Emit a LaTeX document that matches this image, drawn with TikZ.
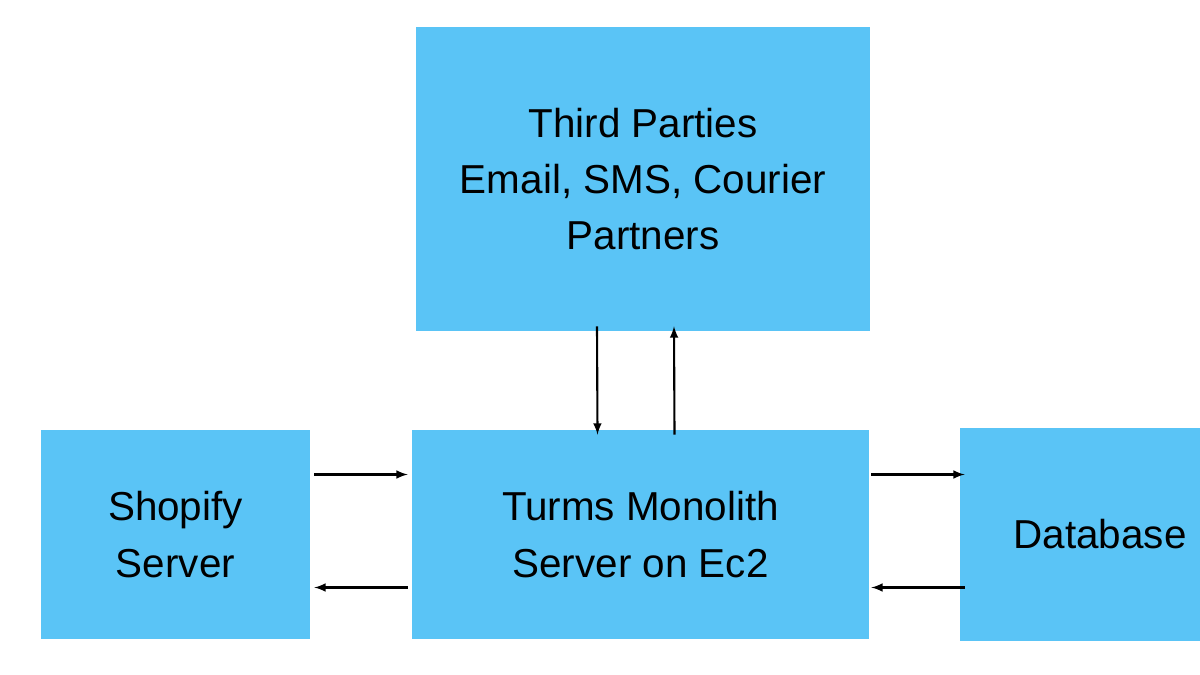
\documentclass[tikz,border=0pt]{standalone}
\usepackage{fontspec}
\setmainfont{Liberation Sans}
\usetikzlibrary{calc}
\definecolor{boxblue}{HTML}{5AC4F6}
\begin{document}
\begin{tikzpicture}[x=0.02cm,y=-0.02cm,
  box/.style={fill=boxblue,draw=none,align=center,inner sep=0pt,
    font=\fontsize{23}{32}\selectfont},
  arr/.style={-latex,line width=1.2pt}]
\clip (0,0) rectangle (1200,675);
\fill[white] (0,0) rectangle (1200,675);
\node[box,minimum width=9.08cm,minimum height=6.08cm] (tp) at (643,179) {Third Parties\\Email, SMS, Courier\\Partners};
\node[box,minimum width=5.38cm,minimum height=4.18cm] (sh) at (175.5,534.5) {Shopify\\Server};
\node[box,minimum width=9.14cm,minimum height=4.18cm] (tm) at (640.5,534.5) {Turms Monolith\\Server on Ec2};
\node[box,minimum width=5.6cm,minimum height=4.26cm] (db) at (1100,534.5) {Database};
\draw[arr] ($(tp.south)+(-46,-5)$) -- ($(tm.north)+(-43,5)$);
\draw[arr] ($(tm.north)+(34,5)$) -- ($(tp.south)+(31,-5)$);
\draw[arr] ($(sh.east)+(4,-60)$) -- ($(tm.west)+(-4,-60)$);
\draw[arr] ($(tm.west)+(-4,53)$) -- ($(sh.east)+(4,53)$);
\draw[arr] ($(tm.east)+(2,-60)$) -- ($(db.west)+(5,-60)$);
\draw[arr] ($(db.west)+(5,53)$) -- ($(tm.east)+(2,53)$);
\end{tikzpicture}
\end{document}
